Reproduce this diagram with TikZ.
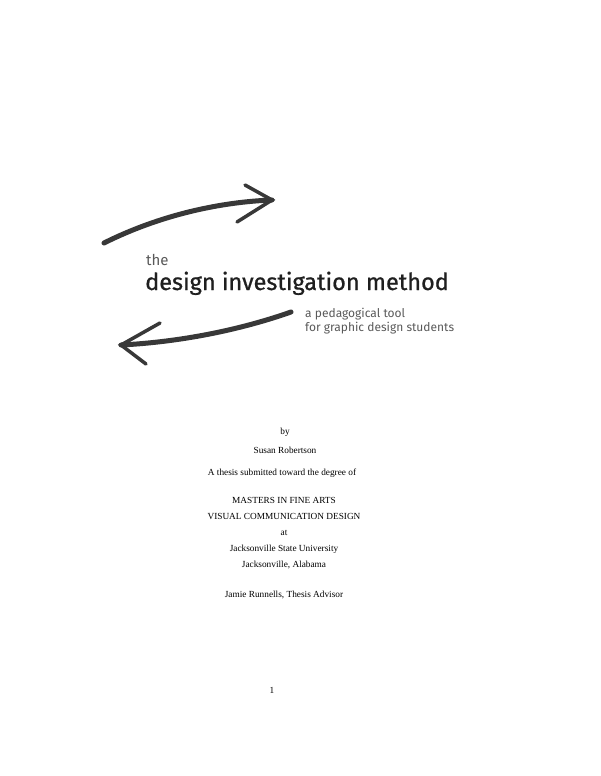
\documentclass[tikz,border=0pt]{standalone}
\usepackage{fontspec}
\setmainfont{Liberation Serif}
\newfontfamily\titlefont{Fira Sans}
\newfontfamily\titlemed[FakeBold=0.8]{Fira Sans}
\begin{document}
\begin{tikzpicture}[x=1pt,y=-1pt,
  brush/.style={line width=5pt,color=black!78,line cap=round},
  headline/.style={line width=3.5pt,color=black!78,line cap=round},
  sub/.style={anchor=base west,inner sep=0,text=black!65,font=\titlefont\fontsize{12}{14}\selectfont},
  body/.style={font=\fontsize{9.3}{11}\selectfont,anchor=base}]
\useasboundingbox (0,0) rectangle (600,776);
\coordinate (t0) at (104,243);
\coordinate (t1) at (272,200);
\coordinate (b0) at (291,312);
\coordinate (b1) at (121,345);
\draw[brush] (t0) .. controls (160,215) and (220,202) .. (t1);
\draw[headline] (245,185) -- (t1) -- (237,222);
\draw[brush] (b0) .. controls (240,330) and (180,342) .. (b1);
\draw[headline] (160,323) -- (b1) -- (146,364);
\node[anchor=base west,inner sep=0,text=black!65,font=\titlefont\fontsize{15}{15}\selectfont] (the) at (146,265) {the};
\node[anchor=base west,inner sep=0,text=black!88,font=\titlemed\fontsize{23.5}{25}\selectfont] (title) at (145,290) {design investigation method};
\node[sub] (sub1) at (305,317) {a pedagogical tool};
\node[sub] (sub2) at (305,331) {for graphic design students};
\node[body] (by) at (285,434) {by};
\node[body] (name) at (285,453) {Susan Robertson};
\node[body] (thesis) at (282,475) {A thesis submitted toward the degree of};
\node[body] (mfa) at (284,503) {MASTERS IN FINE ARTS};
\node[body] (vcd) at (284,519) {VISUAL COMMUNICATION DESIGN};
\node[body] (at) at (284,535) {at};
\node[body] (jsu) at (284,551) {Jacksonville State University};
\node[body] (jal) at (284,567) {Jacksonville, Alabama};
\node[body] (adv) at (284,597) {Jamie Runnells, Thesis Advisor};
\node[body] (pg) at (272,693) {1};
\end{tikzpicture}
\end{document}
